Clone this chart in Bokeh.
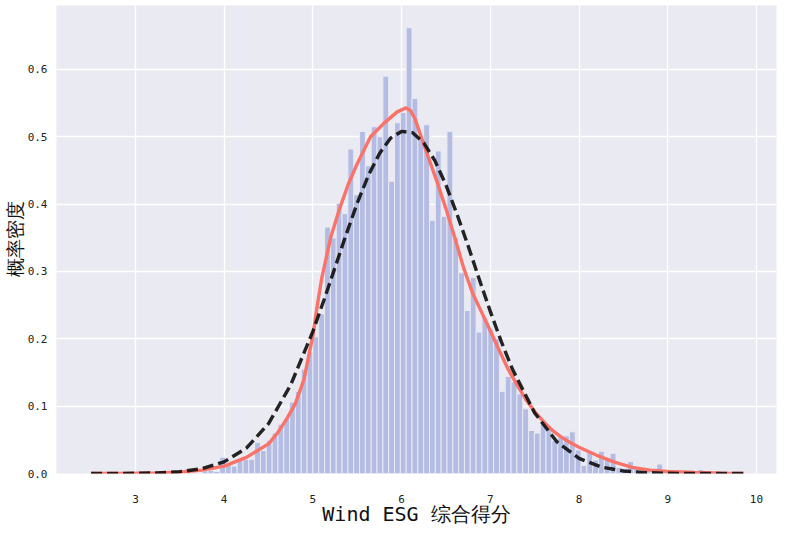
import numpy as np
from bokeh.plotting import figure
from bokeh.models import ColumnDataSource, FixedTicker, Range1d, PrintfTickFormatter
from bokeh.embed import file_html
from bokeh.resources import INLINE

# ---------------- data ----------------
bin_first_left = 3.555
bin_width = 0.0657
bar_heights = [
    0.007, 0.0, 0.0, 0.004, 0.005, 0.003,          # 3.56 .. 3.88
    0.024, 0.014, 0.011, 0.021, 0.021, 0.021,      # ~4.0
    0.046, 0.034, 0.049, 0.060, 0.073, 0.082,
    0.106, 0.122, 0.155, 0.180, 0.203, 0.237,
    0.366, 0.350, 0.401, 0.386, 0.482, 0.414,
    0.508, 0.457, 0.515, 0.500, 0.590, 0.434,
    0.521, 0.536, 0.662, 0.557, 0.500, 0.518,
    0.376, 0.479, 0.382, 0.508, 0.350, 0.298,
    0.242, 0.291, 0.210, 0.232, 0.215, 0.200,
    0.122, 0.144, 0.136, 0.118, 0.096, 0.064,
    0.060, 0.080, 0.066, 0.049, 0.054, 0.056,
    0.062, 0.035, 0.012, 0.032, 0.020, 0.033,
    0.024, 0.030, 0.009, 0.007, 0.018, 0.008,
    0.005, 0.005, 0.004, 0.014, 0.004, 0.003,
    0.0, 0.002, 0.0, 0.0, 0.006, 0.0,
]

kde_x = [2.5, 3.0, 3.25, 3.5, 3.75, 4.0, 4.25, 4.5, 4.6, 4.7, 4.8, 4.9, 5.0, 5.05,
         5.1, 5.2, 5.3, 5.4, 5.5, 5.65, 5.8, 5.95, 6.05, 6.1, 6.15, 6.2, 6.3, 6.4,
         6.5, 6.6, 6.7, 6.8, 6.9, 7.0, 7.1, 7.2, 7.3, 7.4, 7.5, 7.6, 7.7, 7.8, 7.9,
         8.0, 8.2, 8.4, 8.6, 8.8, 9.0, 9.3, 9.6, 9.86]
kde_y = [0.0, 0.0005, 0.001, 0.002, 0.005, 0.011, 0.024, 0.044, 0.060, 0.080, 0.103,
         0.140, 0.205, 0.250, 0.290, 0.350, 0.393, 0.430, 0.460, 0.500, 0.520, 0.537,
         0.543, 0.539, 0.527, 0.508, 0.470, 0.433, 0.393, 0.350, 0.305, 0.268, 0.240,
         0.212, 0.183, 0.155, 0.132, 0.110, 0.092, 0.077, 0.064, 0.054, 0.046, 0.039,
         0.027, 0.017, 0.009, 0.005, 0.003, 0.0015, 0.0005, 0.0]

norm_x = [2.5, 3.0, 3.25, 3.5, 3.75, 4.0, 4.25, 4.5, 4.75, 5.0, 5.125, 5.25, 5.375,
          5.5, 5.625, 5.75, 5.875, 6.0, 6.125, 6.25, 6.375, 6.5, 6.625, 6.75, 6.875,
          7.0, 7.125, 7.25, 7.5, 7.75, 8.0, 8.25, 8.5, 8.75, 9.0, 9.25, 9.5, 9.86]
norm_y = [0.0, 0.0003, 0.0009, 0.0027, 0.0071, 0.0173, 0.0376, 0.074, 0.1315, 0.211,
          0.2576, 0.306, 0.355, 0.4015, 0.4425, 0.475, 0.498, 0.508, 0.506, 0.491,
          0.4646, 0.4285, 0.385, 0.338, 0.2886, 0.2407, 0.1954, 0.1547, 0.0899,
          0.0472, 0.0224, 0.0096, 0.0037, 0.0013, 0.0004, 0.0001, 0.0, 0.0]

x_ticks = [3, 4, 5, 6, 7, 8, 9, 10]
y_ticks = [0.0, 0.1, 0.2, 0.3, 0.4, 0.5, 0.6]
x_label = "Wind ESG 综合得分"
y_label = "概率密度"

# ---------------- figure ----------------
n = len(bar_heights)
lefts = bin_first_left + bin_width * np.arange(n)
bars = ColumnDataSource(dict(left=lefts, right=lefts + bin_width, top=bar_heights))

p = figure(width=800, height=534, x_range=Range1d(2.11, 10.226), y_range=Range1d(0, 0.695),
           output_backend="svg", toolbar_location=None,
           min_border_left=56, min_border_right=24, min_border_top=5, min_border_bottom=61)

p.background_fill_color = "#EAEAF2"
p.border_fill_color = "white"
p.outline_line_color = None

p.quad(left="left", right="right", bottom=0, top="top", source=bars,
       fill_color="#b4bce4", fill_alpha=1.0, line_color="#EAEAF2", line_width=1)

p.line(kde_x, kde_y, line_color="#FA7268", line_width=3.4)
p.line(norm_x, norm_y, line_color="#111111", line_alpha=0.92, line_width=3.4, line_dash="11 5")

for ax in (p.xaxis, p.yaxis):
    ax.axis_line_color = None
    ax.major_tick_line_color = None
    ax.minor_tick_line_color = None
    ax.major_label_text_font = "DejaVu Sans Mono"
    ax.major_label_text_font_size = "11px"
    ax.major_label_text_color = "#222222"
    ax.axis_label_text_font = "DejaVu Sans Mono"
    ax.axis_label_text_font_style = "normal"
    ax.axis_label_text_color = "#111111"

p.xaxis.ticker = FixedTicker(ticks=x_ticks)
p.yaxis.ticker = FixedTicker(ticks=y_ticks)
p.yaxis.formatter = PrintfTickFormatter(format="%.1f")
p.xaxis.major_label_standoff = 15
p.yaxis.major_label_standoff = 3
p.xaxis.axis_label = x_label
p.yaxis.axis_label = y_label
p.xaxis.axis_label_text_font_size = "20px"
p.yaxis.axis_label_text_font_size = "19px"
p.xaxis.axis_label_standoff = -4
p.yaxis.axis_label_standoff = -1

p.xgrid.grid_line_color = "white"
p.ygrid.grid_line_color = "white"
p.xgrid.grid_line_width = 1.3
p.ygrid.grid_line_width = 1.3

open("out.html", "w").write(file_html(p, INLINE))
